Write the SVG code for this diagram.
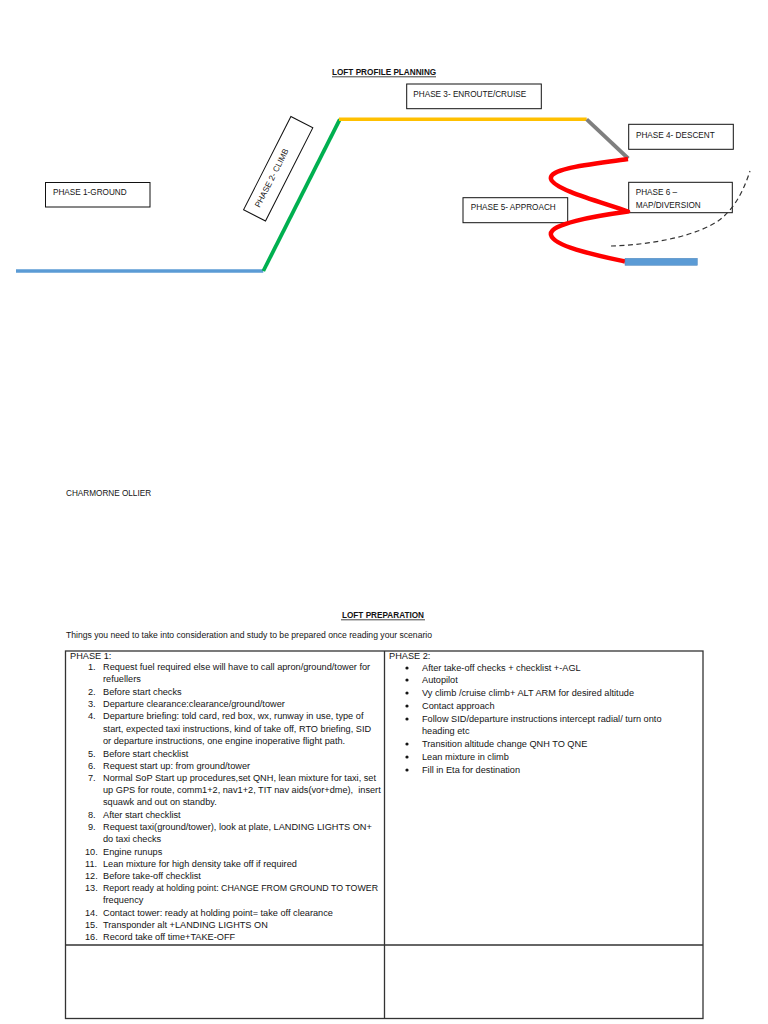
<svg xmlns="http://www.w3.org/2000/svg" width="768" height="1024" viewBox="0 0 768 1024">
<style>
  text { font-family: "Liberation Sans", Arial, sans-serif; fill: #141414; }
  .lbl { font-size: 8.2px; }
  .ttl { font-size: 8.2px; font-weight: bold; }
  .box { fill: #fff; stroke: #111; stroke-width: 1; }
  .tb { font-size: 9.2px; }
  .grid { fill: none; stroke: #333; stroke-width: 1.3; }
  .seg { fill: none; stroke-linecap: butt; stroke-linejoin: round; }
  .ul { stroke: #141414; stroke-width: 0.8; }
  .bul { fill: #141414; }
</style>
<rect width="768" height="1024" fill="#fff"/>

<g id="title">
  <text class="ttl" x="332" y="75">LOFT PROFILE PLANNING</text>
  <line class="ul" x1="332" y1="76.8" x2="436" y2="76.8"/>
</g>

<g id="phase1">
  <rect class="box" x="45.5" y="182.5" width="104.5" height="24.5"/>
  <text class="lbl" x="53" y="195.3">PHASE 1-GROUND</text>
</g>
<g id="phase2" transform="translate(278.2,168.75) rotate(-63.1)">
  <rect class="box" x="-52.3" y="-12.3" width="104.6" height="24.6"/>
  <text class="lbl" x="-43.5" y="1.2">PHASE 2- CLIMB</text>
</g>
<g id="phase3">
  <rect class="box" x="406.7" y="84" width="134.6" height="24.7"/>
  <text class="lbl" x="413.3" y="97">PHASE 3- ENROUTE/CRUISE</text>
</g>
<g id="phase4">
  <rect class="box" x="628.7" y="124.3" width="104.6" height="25"/>
  <text class="lbl" x="636" y="137.7">PHASE 4- DESCENT</text>
</g>
<g id="phase5">
  <rect class="box" x="463" y="197.7" width="104.7" height="25"/>
  <text class="lbl" x="470.7" y="210">PHASE 5- APPROACH</text>
</g>
<g id="phase6">
  <rect class="box" x="628.7" y="182.3" width="103.6" height="30.4"/>
  <text class="lbl" x="635.7" y="195.3">PHASE 6 –</text>
  <text class="lbl" x="635.7" y="208.3">MAP/DIVERSION</text>
</g>

<g id="connectors">
  <line class="seg" x1="16" y1="271" x2="263.3" y2="271" stroke="#5B9BD5" stroke-width="3.3"/>
  <line class="seg" x1="263.3" y1="271" x2="339.8" y2="119.3" stroke="#00B050" stroke-width="3.8"/>
  <line class="seg" x1="339" y1="119.3" x2="586.7" y2="119.3" stroke="#FFC000" stroke-width="3.5"/>
  <line class="seg" x1="586.7" y1="119.3" x2="628.3" y2="158.5" stroke="#7F7F7F" stroke-width="3.8"/>
  <path class="seg" d="M628,159 C595,164 548,168 551,179 C554,190 605,203 628,211.5 C595,216 548,224 551,235 C554,247 600,256 625,261.5" stroke="#FF0000" stroke-width="4.5" stroke-linecap="round"/>
  <path class="seg" d="M611,246 C650,245 700,236 722,218 C738,204 745,186 750,171" stroke="#333" stroke-width="1.2" stroke-dasharray="5,3.5"/>
  <rect x="625" y="258.3" width="72.3" height="7" fill="#5B9BD5" stroke="#4A84BC" stroke-width="0.5"/>
</g>

<text class="lbl" x="66" y="495.5">CHARMORNE OLLIER</text>

<g id="prep-title">
  <text class="ttl" x="383" y="618" text-anchor="middle">LOFT PREPARATION</text>
  <line class="ul" x1="341" y1="619.8" x2="425" y2="619.8"/>
</g>
<text class="tb" x="66" y="637.5" textLength="366" lengthAdjust="spacingAndGlyphs">Things you need to take into consideration and study to be prepared once reading your scenario</text>

<g id="table">
  <rect class="grid" x="65.5" y="651" width="637.5" height="367.5"/>
  <line class="grid" x1="384.5" y1="651" x2="384.5" y2="1018.5"/>
  <line class="grid" x1="65.5" y1="945" x2="703" y2="945"/>

  <g class="tb">
    <text x="70" y="659">PHASE 1:</text>
    <text x="88" y="670">1.</text><text x="103" y="670">Request fuel required else will have to call apron/ground/tower for</text>
    <text x="103" y="682">refuellers</text>
    <text x="88" y="695">2.</text><text x="103" y="695">Before start checks</text>
    <text x="88" y="707">3.</text><text x="103" y="707">Departure clearance:clearance/ground/tower</text>
    <text x="88" y="719">4.</text><text x="103" y="719">Departure briefing: told card, red box, wx, runway in use, type of</text>
    <text x="103" y="732">start, expected taxi instructions, kind of take off, RTO briefing, SID</text>
    <text x="103" y="744">or departure instructions, one engine inoperative flight path.</text>
    <text x="88" y="757">5.</text><text x="103" y="757">Before start checklist</text>
    <text x="88" y="769">6.</text><text x="103" y="769">Request start up: from ground/tower</text>
    <text x="88" y="781">7.</text><text x="103" y="781">Normal SoP Start up procedures,set QNH, lean mixture for taxi, set</text>
    <text x="103" y="793">up GPS for route, comm1+2, nav1+2, TIT nav aids(vor+dme),&#160; insert</text>
    <text x="103" y="805">squawk and out on standby.</text>
    <text x="88" y="818">8.</text><text x="103" y="818">After start checklist</text>
    <text x="88" y="830">9.</text><text x="103" y="830">Request taxi(ground/tower), look at plate, LANDING LIGHTS ON+</text>
    <text x="103" y="842">do taxi checks</text>
    <text x="85" y="855">10.</text><text x="103" y="855">Engine runups</text>
    <text x="85" y="867">11.</text><text x="103" y="867">Lean mixture for high density take off if required</text>
    <text x="85" y="879">12.</text><text x="103" y="879">Before take-off checklist</text>
    <text x="85" y="891">13.</text><text x="103" y="891" textLength="275" lengthAdjust="spacingAndGlyphs">Report ready at holding point: CHANGE FROM GROUND TO TOWER</text>
    <text x="103" y="903">frequency</text>
    <text x="85" y="916">14.</text><text x="103" y="916">Contact tower: ready at holding point= take off clearance</text>
    <text x="85" y="928">15.</text><text x="103" y="928">Transponder alt +LANDING LIGHTS ON</text>
    <text x="85" y="940">16.</text><text x="103" y="940">Record take off time+TAKE-OFF</text>

    <text x="389" y="659">PHASE 2:</text>
    <text x="422" y="671">After take-off checks + checklist +-AGL</text>
    <text x="422" y="683">Autopilot</text>
    <text x="422" y="696">Vy climb /cruise climb+ ALT ARM for desired altitude</text>
    <text x="422" y="709">Contact approach</text>
    <text x="422" y="722">Follow SID/departure instructions intercept radial/ turn onto</text>
    <text x="422" y="734">heading etc</text>
    <text x="422" y="747">Transition altitude change QNH TO QNE</text>
    <text x="422" y="760">Lean mixture in climb</text>
    <text x="422" y="773">Fill in Eta for destination</text>
  </g>
  <g class="bul">
    <circle cx="407" cy="668" r="1.6"/>
    <circle cx="407" cy="680" r="1.6"/>
    <circle cx="407" cy="693" r="1.6"/>
    <circle cx="407" cy="706" r="1.6"/>
    <circle cx="407" cy="719" r="1.6"/>
    <circle cx="407" cy="744" r="1.6"/>
    <circle cx="407" cy="757" r="1.6"/>
    <circle cx="407" cy="770" r="1.6"/>
  </g>
</g>
</svg>
